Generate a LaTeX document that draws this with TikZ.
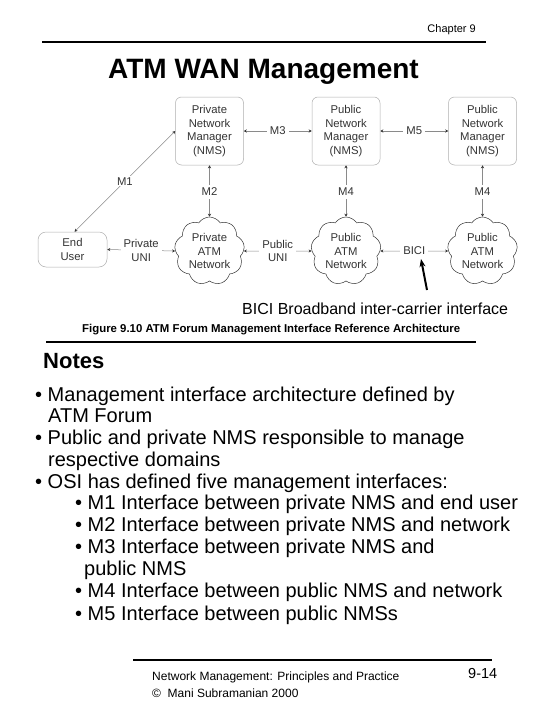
\documentclass[tikz,border=0pt]{standalone}
\usepackage{fontspec}
\setmainfont{Liberation Sans}
\usetikzlibrary{shapes.symbols,arrows.meta}
\definecolor{dtext}{HTML}{333333}
\definecolor{dline}{HTML}{8A8A8A}
\tikzset{
  nmsbox/.style={draw=dline!70, line width=0.5pt, rounded corners=6pt, minimum width=68pt, minimum height=68pt, align=center, text=dtext, font=\fontsize{11.3}{13.7}\selectfont},
  userbox/.style={draw=dline!70, line width=0.5pt, rounded corners=8pt, minimum width=69pt, minimum height=35pt, align=center, text=dtext, font=\fontsize{11.3}{13.7}\selectfont},
  atmcloud/.style={cloud, cloud puffs=9, cloud puff arc=115, aspect=1, draw=dtext, line width=0.5pt, minimum width=70pt, minimum height=68pt, inner sep=0pt, align=center, text=dtext, font=\fontsize{11.3}{13.5}\selectfont},
  conn/.style={draw=dline, line width=0.5pt, {Stealth[length=3pt,width=3pt,color=dtext]}-{Stealth[length=3pt,width=3pt,color=dtext]}},
  lbl/.style={fill=white, inner sep=3pt, align=center, text=dtext, font=\fontsize{11.3}{13.7}\selectfont},
  rule/.style={line width=2pt, draw=black},
  notes/.style={anchor=base west, inner sep=0pt, font=\fontsize{20}{22}\selectfont},
}
\begin{document}
\begin{tikzpicture}[x=1pt,y=-1pt]
\useasboundingbox (0,0) rectangle (540,720);
% header
\node[anchor=base east, inner sep=0pt, font=\fontsize{11}{13}\selectfont] (chap) at (476,32) {Chapter 9};
\coordinate (tl1) at (42,42);
\coordinate (tl2) at (486,42);
\draw[rule] (tl1) -- (tl2);
\node[anchor=base west, inner sep=0pt, font=\fontsize{28}{32}\bfseries] (title) at (108,78) {ATM WAN Management};
% diagram
\node[nmsbox] (nms1) at (209.5,131) {Private\\Network\\Manager\\(NMS)};
\node[nmsbox] (nms2) at (346,131) {Public\\Network\\Manager\\(NMS)};
\node[nmsbox] (nms3) at (482.5,131) {Public\\Network\\Manager\\(NMS)};
\node[atmcloud] (c1) at (209.5,251) {Private\\ATM\\Network};
\node[atmcloud] (c2) at (346,251) {Public\\ATM\\Network};
\node[atmcloud] (c3) at (482.5,251) {Public\\ATM\\Network};
\node[userbox] (eu) at (72.5,249.5) {End\\User};
\draw[conn] (nms1.east) -- node[lbl]{M3} (nms2.west);
\draw[conn] (nms2.east) -- node[lbl]{M5} (nms3.west);
\draw[conn] (nms1.south) -- node[lbl, pos=0.52]{M2} (c1.north);
\draw[conn] (nms2.south) -- node[lbl, pos=0.52]{M4} (c2.north);
\draw[conn] (nms3.south) -- node[lbl, pos=0.52]{M4} (c3.north);
\draw[conn] ([xshift=2pt]eu.north) -- node[lbl, inner sep=1pt]{M1} (nms1.west);
\draw[conn] (eu.east) -- node[lbl]{Private\\UNI} (c1.west);
\draw[conn] (c1.east) -- node[lbl]{Public\\UNI} (c2.west);
\draw[conn] (c2.east) -- node[lbl]{BICI} (c3.west);
\coordinate (bt) at (427,290);
\coordinate (bh) at (421,259);
\draw[line width=2pt, -{Stealth[length=8pt,width=6pt]}] (bt) -- (bh);
\node[anchor=base west, inner sep=0pt, font=\fontsize{16}{18}\selectfont] (bici) at (242,314) {BICI Broadband inter-carrier interface};
\node[anchor=base west, inner sep=0pt, font=\fontsize{11.4}{13}\bfseries] (cap) at (82,332) {Figure 9.10 ATM Forum Management Interface Reference Architecture};
\coordinate (cl1) at (46,342);
\coordinate (cl2) at (476,342);
\draw[rule] (cl1) -- (cl2);
% notes
\node[anchor=base west, inner sep=0pt, font=\fontsize{22}{24}\bfseries] (nt) at (43,368) {Notes};
\node[notes] (n1) at (35,401) {• Management interface architecture defined by};
\node[notes] (n2) at (48,422) {ATM Forum};
\node[notes] (n3) at (35,444) {• Public and private NMS responsible to manage};
\node[notes] (n4) at (48,466) {respective domains};
\node[notes] (n5) at (35,488) {• OSI has defined five management interfaces:};
\node[notes] (n6) at (75,509) {• M1 Interface between private NMS and end user};
\node[notes] (n7) at (75,531) {• M2 Interface between private NMS and network};
\node[notes] (n8) at (75,553) {• M3 Interface between private NMS and};
\node[notes] (n9) at (84,575) {public NMS};
\node[notes] (n10) at (75,597) {• M4 Interface between public NMS and network};
\node[notes] (n11) at (75,620) {• M5 Interface between public NMSs};
% footer
\coordinate (fl1) at (133,660);
\coordinate (fl2) at (492,660);
\draw[rule] (fl1) -- (fl2);
\node[anchor=base west, inner sep=0pt, font=\fontsize{12}{14}\selectfont] (f1) at (152,680) {Network Management: Principles and Practice};
\node[anchor=base west, inner sep=0pt, font=\fontsize{12}{14}\selectfont] (f2) at (152,697) {© \ Mani Subramanian 2000};
\node[anchor=base west, inner sep=0pt, font=\fontsize{14.5}{16}\selectfont] (pg) at (468,678) {9-14};
\end{tikzpicture}
\end{document}
